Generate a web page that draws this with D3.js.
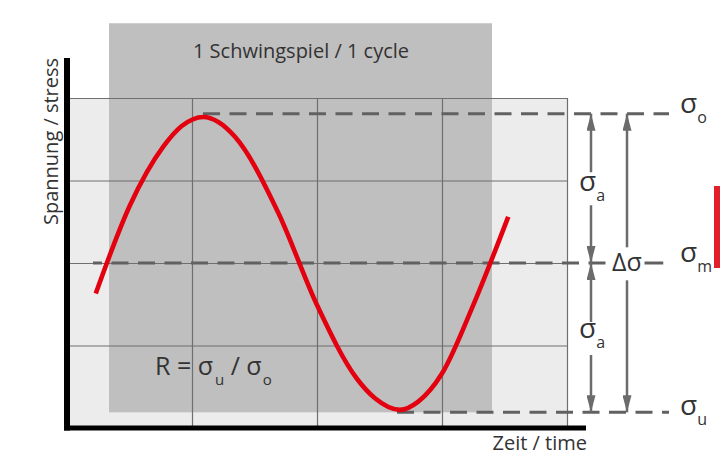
<!DOCTYPE html>
<html>
<head>
<meta charset="utf-8">
<script src="https://cdn.jsdelivr.net/npm/d3@7"></script>
<style>
  html, body { margin: 0; padding: 0; background: #fff; }
  svg { display: block; }
  text { font-family: "Open Sans", sans-serif; fill: #333; }
</style>
</head>
<body>
<svg id="chart" width="720" height="471"></svg>
<script>
// curve, x in grid cells, y in grid cells above the time axis
const timeValues = [0.23, 0.504, 0.77, 0.918, 1.09, 1.21, 1.344, 1.69, 2.0, 2.318, 2.464, 2.664, 2.81, 3.0, 3.25, 3.53]
const stressValues = [1.63, 2.7, 3.41, 3.66, 3.77, 3.71, 3.53, 2.61, 1.49, 0.6, 0.36, 0.22, 0.32, 0.66, 1.49, 2.56]

const gridX = [1, 2, 3, 4]
const gridY = [1, 2, 3, 4]
const cycleStart = 0.336
const cycleEnd = 3.4
const cycleTop = 4.906
const sigmaO = 3.81
const sigmaM = 2.0
const sigmaU = 0.19

const margin = { left: 67, top: 98, right: 153, bottom: 43 }
const width = 720 - margin.left - margin.right
const height = 471 - margin.top - margin.bottom

const svg = d3.select('#chart')
const g = svg.append('g').attr('transform', `translate(${margin.left},${margin.top})`)

const xScale = d3.scaleLinear().domain([0, 4]).range([0, width])
const yScale = d3.scaleLinear().domain([0, 4]).range([height, 0])

// light plot area and the darker one-cycle band
g.append('rect')
  .attr('x', xScale(0)).attr('y', yScale(4))
  .attr('width', xScale(4)).attr('height', yScale(0) - yScale(4))
  .attr('fill', '#ececec')

g.append('rect')
  .attr('x', xScale(cycleStart)).attr('y', yScale(cycleTop))
  .attr('width', xScale(cycleEnd) - xScale(cycleStart))
  .attr('height', yScale(sigmaU) - yScale(cycleTop))
  .attr('fill', '#bfbfbf')

// grid lines from the axes
const gridXAxis = d3.axisBottom(xScale).tickValues(gridX).tickSize(-height).tickFormat('').tickSizeOuter(0)
const gridYAxis = d3.axisLeft(yScale).tickValues(gridY).tickSize(-width).tickFormat('').tickSizeOuter(0)

g.append('g').attr('transform', `translate(0,${height})`).call(gridXAxis)
  .call(a => a.select('.domain').remove())
  .selectAll('line').attr('stroke', '#6f6f6f').attr('stroke-width', 1.2)
g.append('g').call(gridYAxis)
  .call(a => a.select('.domain').remove())
  .selectAll('line').attr('stroke', '#6f6f6f').attr('stroke-width', 1.2)

// heavy black axes
g.append('line')
  .attr('x1', xScale(0)).attr('x2', xScale(0))
  .attr('y1', -40).attr('y2', height + 2.5)
  .attr('stroke', '#000').attr('stroke-width', 6)
g.append('line')
  .attr('x1', -3).attr('x2', width + 19)
  .attr('y1', height).attr('y2', height)
  .attr('stroke', '#000').attr('stroke-width', 5)

// dashed level lines
const dashColor = '#616161'
const levels = [
  { y: sigmaO, x1: 1.088, x2: 4.816, offset: 0 },
  { y: sigmaM, x1: 0.208, x2: 4.34, offset: 8 },
  { y: sigmaU, x1: 2.64, x2: 4.816, offset: 0 }
]
g.selectAll('.level')
  .data(levels)
  .join('line')
  .attr('class', 'level')
  .attr('x1', d => xScale(d.x1)).attr('x2', d => xScale(d.x2))
  .attr('y1', d => yScale(d.y)).attr('y2', d => yScale(d.y))
  .attr('stroke', dashColor)
  .attr('stroke-width', 3)
  .attr('stroke-dasharray', '17,9.5')
  .attr('stroke-dashoffset', d => d.offset)

// short dash to the right of delta sigma
g.append('line')
  .attr('x1', xScale(4.62)).attr('x2', xScale(4.77))
  .attr('y1', yScale(sigmaM)).attr('y2', yScale(sigmaM))
  .attr('stroke', dashColor).attr('stroke-width', 3)

// stress curve
const line = d3.line()
  .x(d => xScale(d[0]))
  .y(d => yScale(d[1]))
  .curve(d3.curveMonotoneX)

g.append('path')
  .datum(d3.zip(timeValues, stressValues))
  .attr('d', line)
  .attr('fill', 'none')
  .attr('stroke', '#e3000f')
  .attr('stroke-width', 4.6)

// arrows
const arrowColor = '#6b6b6b'
svg.append('defs').append('marker')
  .attr('id', 'head')
  .attr('viewBox', '0 0 17 9')
  .attr('refX', 17).attr('refY', 4.5)
  .attr('markerUnits', 'userSpaceOnUse')
  .attr('markerWidth', 17).attr('markerHeight', 9)
  .attr('orient', 'auto')
  .append('path')
  .attr('d', 'M0,0L17,4.5L0,9Z')
  .attr('fill', arrowColor)

const arrows = [
  { x: 4.192, from: 3.1, to: sigmaO },
  { x: 4.192, from: 2.7, to: sigmaM },
  { x: 4.192, from: 1.285, to: sigmaM },
  { x: 4.192, from: 0.885, to: sigmaU },
  { x: 4.48, from: 2.19, to: sigmaO },
  { x: 4.48, from: 1.79, to: sigmaU }
]
g.selectAll('.arrow')
  .data(arrows)
  .join('line')
  .attr('class', 'arrow')
  .attr('x1', d => xScale(d.x)).attr('x2', d => xScale(d.x))
  .attr('y1', d => yScale(d.from)).attr('y2', d => yScale(d.to))
  .attr('stroke', arrowColor)
  .attr('stroke-width', 2.5)
  .attr('marker-end', 'url(#head)')

// labels, positions in data cells so they follow the scales
function sigma(x, y, sub) {
  const t = g.append('text')
    .attr('x', xScale(x)).attr('y', yScale(y))
    .attr('font-size', 28)
  t.append('tspan').text('σ')
  t.append('tspan').text(sub)
    .attr('font-size', 16)
    .attr('dx', 0).attr('dy', 10)
}

sigma(4.904, 3.82, 'o')
sigma(4.904, 2.01, 'm')
sigma(4.904, 0.16, 'u')
sigma(4.096, 2.87, 'a')
sigma(4.096, 1.09, 'a')

g.append('text')
  .attr('x', xScale(4.48)).attr('y', yScale(1.9))
  .attr('text-anchor', 'middle')
  .attr('font-size', 25)
  .text('Δσ')

g.append('text')
  .attr('x', xScale(0.704)).attr('y', yScale(0.64))
  .attr('font-size', 25)
  .call(t => {
    t.append('tspan').text('R = σ')
    t.append('tspan').text('u').attr('font-size', 15).attr('dx', 2).attr('dy', 10)
    t.append('tspan').text(' / σ').attr('dy', -10)
    t.append('tspan').text('o').attr('font-size', 15).attr('dx', 1).attr('dy', 10)
  })

svg.append('text')
  .attr('x', 301).attr('y', 58)
  .attr('text-anchor', 'middle')
  .attr('font-size', 20)
  .text('1 Schwingspiel / 1 cycle')

svg.append('text')
  .attr('x', 587).attr('y', 450)
  .attr('text-anchor', 'end')
  .attr('font-size', 20)
  .text('Zeit / time')

svg.append('text')
  .attr('transform', 'translate(58,225) rotate(-90)')
  .attr('font-size', 20)
  .text('Spannung / stress')

// red tab cut off at the right edge
svg.append('rect')
  .attr('x', 714).attr('y', 186)
  .attr('width', 6).attr('height', 82)
  .attr('fill', '#e2202c')
</script>
</body>
</html>
